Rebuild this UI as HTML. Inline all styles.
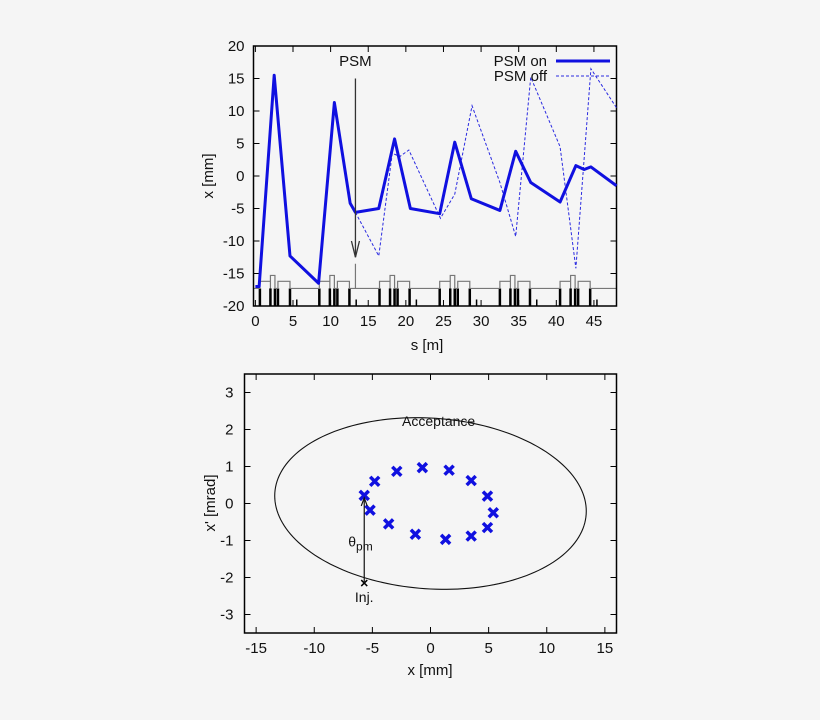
<!DOCTYPE html>
<html><head><meta charset="utf-8"><style>
body{margin:0;background:#f5f5f5;}
svg{display:block;font-family:"Liberation Sans",sans-serif;}
text{fill:#111;}
</style></head><body>
<svg id="c" width="820" height="720" viewBox="0 0 820 720">
<rect width="820" height="720" fill="#f5f5f5"/>
<g id="topplot"></g>
<g id="botplot"></g>
</svg>
<script>
const NS="http://www.w3.org/2000/svg";
function mk(p,t,a){const e=document.createElementNS(NS,t);for(const k in a)e.setAttribute(k,a[k]);p.appendChild(e);return e;}
function txt(p,x,y,s,a){const e=mk(p,'text',Object.assign({x:x,y:y,'font-size':15},a||{}));e.textContent=s;return e;}

// ---- top chart data ----
const sOn=[0,0.5,2.5,4.6,8.4,10.5,12.6,13.3,16.4,18.5,20.6,24.5,26.5,28.7,32.5,34.6,36.6,40.5,42.6,43.7,44.6,48];
const xOn=[-17,-17,15.5,-12.3,-16.5,11.3,-4.2,-5.6,-5,5.7,-5,-5.8,5.2,-3.5,-5.3,3.8,-1,-4,1.6,1,1.4,-1.5];
const sOff=[13.3,16.4,18.2,19.2,20.4,24.6,26.5,28.8,32.5,34.6,36.6,40.5,42.6,44.6,48];
const xOff=[-5.6,-12.3,3.5,3,4,-6.5,-2.8,10.8,-1,-9.3,15.2,4.5,-14.2,16.5,10.5];
const cells=[0,7.9,15.9,23.9,31.9,39.9];
const sTicks=[0,5,10,15,20,25,30,35,40,45];
const xTicks=[-20,-15,-10,-5,0,5,10,15,20];

const T={l:253.5,r:616.5,t:46,b:306,smin:-0.25,smax:48,ymin:-20,ymax:20};
const sx=v=>T.l+(v-T.smin)/(T.smax-T.smin)*(T.r-T.l);
const sy=v=>T.b-(v-T.ymin)/(T.ymax-T.ymin)*(T.b-T.t);
const topG=document.getElementById('topplot');

// lattice
const lat=mk(topG,'g',{});


let d='M'+T.l+' '+sy(-17.3);
cells.forEach(c=>{
  const segs=[[c+0.6,c+2.0,-16.2],[c+2.0,c+2.6,-15.3],[c+3.0,c+4.6,-16.2]];
  segs.forEach(g=>{d+=' L'+sx(g[0])+' '+sy(-17.3)+' L'+sx(g[0])+' '+sy(g[2])+' L'+sx(g[1])+' '+sy(g[2])+' L'+sx(g[1])+' '+sy(-17.3);});
  [c+0.6,c+2.0,c+2.6,c+3.0,c+4.6].forEach(b=>mk(lat,'line',{x1:sx(b),x2:sx(b),y1:sy(-17.3),y2:T.b,stroke:'#000','stroke-width':2.5}));
  mk(lat,'line',{x1:sx(c+5.5),x2:sx(c+5.5),y1:sy(-19),y2:T.b,stroke:'#000','stroke-width':1.5});
});
d+=' L'+T.r+' '+sy(-17.3);
mk(lat,'path',{d:d,fill:'none',stroke:'#777','stroke-width':1.2});
mk(lat,'line',{x1:sx(13.3),x2:sx(13.3),y1:sy(-17.3),y2:sy(-13.5),stroke:'#777','stroke-width':1.2});

// frame & ticks
mk(topG,'rect',{x:T.l,y:T.t,width:T.r-T.l,height:T.b-T.t,fill:'none',stroke:'#000','stroke-width':1.5});
sTicks.forEach(v=>{mk(topG,'line',{x1:sx(v),x2:sx(v),y1:T.b,y2:T.b-6,stroke:'#000'});mk(topG,'line',{x1:sx(v),x2:sx(v),y1:T.t,y2:T.t+6,stroke:'#000'});
  txt(topG,sx(v),T.b+20,String(v),{'text-anchor':'middle'});});
xTicks.forEach(v=>{mk(topG,'line',{x1:T.l,x2:T.l+6,y1:sy(v),y2:sy(v),stroke:'#000'});mk(topG,'line',{x1:T.r,x2:T.r-6,y1:sy(v),y2:sy(v),stroke:'#000'});
  txt(topG,T.l-9,sy(v)+5,String(v),{'text-anchor':'end'});});
txt(topG,427,350,'s [m]',{'text-anchor':'middle'});
txt(topG,213,176,'x [mm]',{'text-anchor':'middle',transform:'rotate(-90 213 176)'});

// series
const lOff=mk(topG,'polyline',{points:sOff.map((s,i)=>sx(s)+','+sy(xOff[i])).join(' '),fill:'none',stroke:'#2a2ae0','stroke-width':1,'stroke-dasharray':'3,2'});

const lOn=mk(topG,'polyline',{points:sOn.map((s,i)=>sx(s)+','+sy(xOn[i])).join(' '),fill:'none',stroke:'#1010e0','stroke-width':3,'stroke-linejoin':'round'});


// PSM arrow
mk(topG,'line',{x1:sx(13.3),x2:sx(13.3),y1:sy(15),y2:sy(-12.5),stroke:'#333','stroke-width':1.3});
mk(topG,'path',{d:`M${sx(13.3)-4} ${sy(-10)} L${sx(13.3)} ${sy(-12.5)} L${sx(13.3)+4} ${sy(-10)}`,fill:'none',stroke:'#333','stroke-width':1.3});
txt(topG,sx(13.3),66,'PSM',{'text-anchor':'middle'});
// legend
txt(topG,547,66,'PSM on',{'text-anchor':'end'});
mk(topG,'line',{x1:556,x2:610,y1:61,y2:61,stroke:'#1010e0','stroke-width':3});
txt(topG,547,81,'PSM off',{'text-anchor':'end'});
mk(topG,'line',{x1:556,x2:610,y1:76,y2:76,stroke:'#2a2ae0','stroke-width':1,'stroke-dasharray':'3,2'});

// ---- bottom chart data ----
const px=[-5.7,-5.2,-4.8,-3.6,-2.9,-1.3,-0.7,1.3,1.6,3.5,3.5,4.9,4.9,5.4];
const py=[0.22,-0.18,0.6,-0.55,0.87,-0.83,0.97,-0.97,0.9,-0.88,0.62,0.2,-0.65,-0.25];
const injX=[-5.7], injY=[-2.15];
const accA=[13.4], accB=[2.32], accPhi=[1.66];
const bxTicks=[-15,-10,-5,0,5,10,15];
const byTicks=[-3,-2,-1,0,1,2,3];

const B={l:244.5,r:616.5,t:374,b:633,xmin:-16,xmax:16,ymin:-3.5,ymax:3.5};
const bx=v=>B.l+(v-B.xmin)/(B.xmax-B.xmin)*(B.r-B.l);
const by=v=>B.b-(v-B.ymin)/(B.ymax-B.ymin)*(B.b-B.t);
const botG=document.getElementById('botplot');
mk(botG,'rect',{x:B.l,y:B.t,width:B.r-B.l,height:B.b-B.t,fill:'none',stroke:'#000','stroke-width':1.5});
bxTicks.forEach(v=>{mk(botG,'line',{x1:bx(v),x2:bx(v),y1:B.b,y2:B.b-6,stroke:'#000'});mk(botG,'line',{x1:bx(v),x2:bx(v),y1:B.t,y2:B.t+6,stroke:'#000'});
  txt(botG,bx(v),B.b+20,String(v),{'text-anchor':'middle'});});
byTicks.forEach(v=>{mk(botG,'line',{x1:B.l,x2:B.l+6,y1:by(v),y2:by(v),stroke:'#000'});mk(botG,'line',{x1:B.r,x2:B.r-6,y1:by(v),y2:by(v),stroke:'#000'});
  txt(botG,B.l-11,by(v)+5,String(v),{'text-anchor':'end'});});
txt(botG,430,675,'x [mm]',{'text-anchor':'middle'});
txt(botG,215,503,"x' [mrad]",{'text-anchor':'middle',transform:'rotate(-90 215 503)'});

// acceptance ellipse
let ep='';
for(let i=0;i<=180;i++){const t=i/180*2*Math.PI;ep+=(i?'L':'M')+bx(accA[0]*Math.cos(t))+' '+by(accB[0]*Math.cos(t+accPhi[0]))+' ';}
const el=mk(botG,'path',{d:ep+'Z',fill:'none',stroke:'#111','stroke-width':1.1});

txt(botG,bx(0.7),by(2.1),'Acceptance',{'text-anchor':'middle','font-size':14});

// points
px.forEach((x,i)=>{const cx=bx(x),cy=by(py[i]);
  const g=mk(botG,'path',{d:`M${cx-4.5} ${cy-4.5} L${cx+4.5} ${cy+4.5} M${cx-4.5} ${cy+4.5} L${cx+4.5} ${cy-4.5}`,stroke:'#1010e0','stroke-width':3.5});
  });
// injection
const ix=bx(injX[0]),iy=by(injY[0]);
mk(botG,'path',{d:`M${ix-3} ${iy-3} L${ix+3} ${iy+3} M${ix-3} ${iy+3} L${ix+3} ${iy-3}`,stroke:'#000','stroke-width':1.5});
mk(botG,'line',{x1:ix,x2:ix,y1:iy,y2:by(0.15),stroke:'#111','stroke-width':1.2});
mk(botG,'path',{d:`M${ix-3} ${by(0.15)+8} L${ix} ${by(0.15)} L${ix+3} ${by(0.15)+8}`,fill:'none',stroke:'#111','stroke-width':1.2});
txt(botG,ix,iy+19,'Inj.',{'text-anchor':'middle','font-size':14});
const th=txt(botG,ix-16,by(-1)+6,'θ',{'font-size':14});
const ts=mk(th,'tspan',{dy:4,'font-size':12});ts.textContent='pm';
</script>
</body></html>
